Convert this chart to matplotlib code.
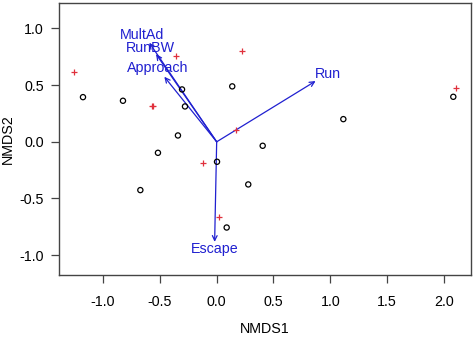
import matplotlib
matplotlib.use("Agg")
import matplotlib.pyplot as plt

plt.rcParams['font.family'] = ['Liberation Sans', 'DejaVu Sans']

# site scores (open circles)
site_x = [-1.177, -0.825, -0.305, -0.279, 0.137, -0.341, -0.517, 0.003,
          1.115, 2.083, 0.405, -0.672, 0.088, 0.278]
site_y = [0.394, 0.362, 0.462, 0.312, 0.489, 0.056, -0.097, -0.176,
          0.200, 0.397, -0.035, -0.426, -0.756, -0.376]

# species scores (red crosses)
sp_x = [-1.256, -0.358, 0.220, -0.569, -0.560, 0.170, -0.121, 2.107, 0.020]
sp_y = [0.615, 0.759, 0.803, 0.312, 0.318, 0.106, -0.185, 0.474, -0.662]

# fitted behaviour vectors
vec_names = ['MultAd', 'RunBW', 'Approach', 'Run', 'Escape']
vec_x = [-0.593, -0.534, -0.461, 0.871, -0.018]
vec_y = [0.874, 0.774, 0.574, 0.536, -0.883]
lab_x = [-0.655, -0.580, -0.520, 0.982, -0.015]
lab_y = [0.942, 0.830, 0.648, 0.597, -0.947]

fig = plt.figure(figsize=(4.74, 3.38), dpi=100)
ax = fig.add_axes([0.1245, 0.186, 0.8692, 0.805])

ax.scatter(site_x, site_y, s=14, facecolors='none', edgecolors='black',
           linewidths=0.9, zorder=3)
ax.scatter(sp_x, sp_y, s=14, marker='+', color='#e0303c', linewidths=0.9,
           zorder=3)

for name, x, y, lx, ly in zip(vec_names, vec_x, vec_y, lab_x, lab_y):
    ax.annotate('', xy=(x, y), xytext=(0, 0),
                arrowprops=dict(arrowstyle='->,head_length=0.35,head_width=0.17',
                                color='#2020d0', lw=0.9, shrinkA=0, shrinkB=0),
                zorder=2)
    ax.text(lx, ly, name, color='#2020d0', fontsize=10.3,
            ha='center', va='center', zorder=4)

ax.set_xlim(-1.388, 2.239)
ax.set_ylim(-1.176, 1.224)
ax.set_xticks([-1.0, -0.5, 0.0, 0.5, 1.0, 1.5, 2.0])
ax.set_yticks([-1.0, -0.5, 0.0, 0.5, 1.0])
ax.set_xticklabels(['-1.0', '-0.5', '0.0', '0.5', '1.0', '1.5', '2.0'])
ax.set_yticklabels(['-1.0', '-0.5', '0.0', '0.5', '1.0'])

for sp in ax.spines.values():
    sp.set_color('#444444')
    sp.set_linewidth(1.0)
ax.tick_params(direction='out', length=6, width=0.9, color='#444444',
               labelsize=10.3)
ax.tick_params(axis='x', pad=8)
ax.tick_params(axis='y', pad=5)

ax.set_xlabel('NMDS1', fontsize=10.3, labelpad=10)
ax.set_ylabel('NMDS2', fontsize=10.3, labelpad=3)

fig.savefig('out.png', dpi=100)
